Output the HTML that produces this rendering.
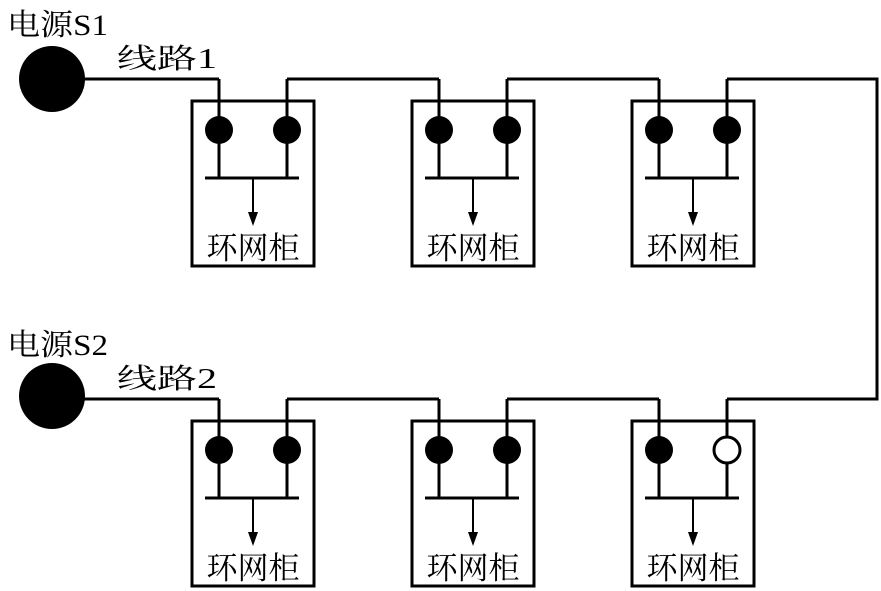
<!DOCTYPE html>
<html><head><meta charset="utf-8"><style>
html,body{margin:0;padding:0;background:#fff;}
svg{display:block;}
text{font-family:"Liberation Serif","Noto Serif CJK SC",serif;fill:#000;}
</style></head><body>
<svg width="881" height="591" viewBox="0 0 881 591" xmlns="http://www.w3.org/2000/svg">
<defs>
<g id="box">
  <rect x="192" y="101" width="122" height="165" fill="none" stroke="#000" stroke-width="3"/>
  <line x1="219" y1="79" x2="219" y2="178" stroke="#000" stroke-width="3"/>
  <line x1="287" y1="79" x2="287" y2="178" stroke="#000" stroke-width="3"/>
  <line x1="205" y1="178" x2="299" y2="178" stroke="#000" stroke-width="3"/>
  <line x1="253" y1="178" x2="253" y2="216" stroke="#000" stroke-width="2"/>
  <polygon points="248,212 258,212 253,226" fill="#000"/>
  <text x="253" y="259" font-size="31" text-anchor="middle">环网柜</text>
</g>
</defs>
<text x="7" y="35" font-size="30" textLength="101" lengthAdjust="spacingAndGlyphs">电源S1</text>
<text x="117" y="68" font-size="28" textLength="100" lengthAdjust="spacingAndGlyphs">线路1</text>
<circle cx="52" cy="79" r="33" fill="#000"/>
<text x="7" y="355" font-size="30" textLength="101" lengthAdjust="spacingAndGlyphs">电源S2</text>
<text x="117" y="388" font-size="28" textLength="100" lengthAdjust="spacingAndGlyphs">线路2</text>
<circle cx="52" cy="396" r="33" fill="#000"/>

<polyline points="84,79 219,79" fill="none" stroke="#000" stroke-width="3"/>
<polyline points="287,79 439,79" fill="none" stroke="#000" stroke-width="3"/>
<polyline points="507,79 659,79" fill="none" stroke="#000" stroke-width="3"/>
<polyline points="727,79 877,79 877,399 727,399" fill="none" stroke="#000" stroke-width="3"/>
<polyline points="84,399 219,399" fill="none" stroke="#000" stroke-width="3"/>
<polyline points="287,399 439,399" fill="none" stroke="#000" stroke-width="3"/>
<polyline points="507,399 659,399" fill="none" stroke="#000" stroke-width="3"/>

<use href="#box"/>
<use href="#box" transform="translate(220,0)"/>
<use href="#box" transform="translate(440,0)"/>
<use href="#box" transform="translate(0,320)"/>
<use href="#box" transform="translate(220,320)"/>
<use href="#box" transform="translate(440,320)"/>

<g fill="#000">
<circle cx="219" cy="130" r="14"/><circle cx="287" cy="130" r="14"/>
<circle cx="439" cy="130" r="14"/><circle cx="507" cy="130" r="14"/>
<circle cx="659" cy="130" r="14"/><circle cx="727" cy="130" r="14"/>
<circle cx="219" cy="450" r="14"/><circle cx="287" cy="450" r="14"/>
<circle cx="439" cy="450" r="14"/><circle cx="507" cy="450" r="14"/>
<circle cx="659" cy="450" r="14"/>
</g>
<circle cx="727" cy="450" r="13" fill="#fff" stroke="#000" stroke-width="3"/>
</svg>
</body></html>
